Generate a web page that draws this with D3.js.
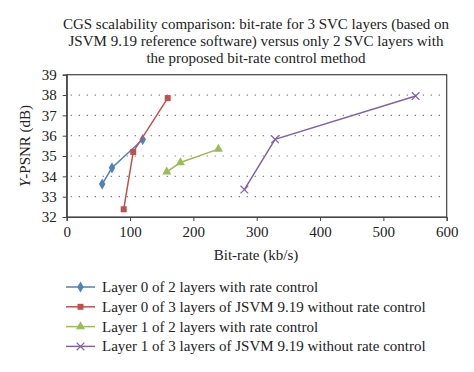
<!DOCTYPE html>
<html><head><meta charset="utf-8">
<script src="https://cdn.jsdelivr.net/npm/d3@7"></script>
<style>body{margin:0;background:#fff}svg{display:block}</style>
</head><body><svg id="c" width="474" height="372" font-family="Liberation Serif"></svg>
<script>
const titleLines = ["CGS scalability comparison: bit-rate for 3 SVC layers (based on",
  "JSVM 9.19 reference software) versus only 2 SVC layers with",
  "the proposed bit-rate control method"];
const seriesNames = ["Layer 0 of 2 layers with rate control",
  "Layer 0 of 3 layers of JSVM 9.19 without rate control",
  "Layer 1 of 2 layers with rate control",
  "Layer 1 of 3 layers of JSVM 9.19 without rate control"];
const layer0RC_x = [56, 71.5, 120];
const layer0RC_y = [33.62, 34.42, 35.81];
const layer0JSVM_x = [90, 105, 159.5];
const layer0JSVM_y = [32.38, 35.2, 37.85];
const layer1RC_x = [158, 179.5, 239.5];
const layer1RC_y = [34.22, 34.68, 35.34];
const layer1JSVM_x = [280.5, 329, 551];
const layer1JSVM_y = [33.35, 35.82, 37.95];
const xTicks = [0, 100, 200, 300, 400, 500, 600];
const yTicks = [32, 33, 34, 35, 36, 37, 38, 39];
const colors = ["#4F81BD", "#C0504D", "#9BBB59", "#8064A2"];
const symbols = ["diamond", "square", "triangle", "cross"];

const series = [
  {name: seriesNames[0], xs: layer0RC_x, ys: layer0RC_y},
  {name: seriesNames[1], xs: layer0JSVM_x, ys: layer0JSVM_y},
  {name: seriesNames[2], xs: layer1RC_x, ys: layer1RC_y},
  {name: seriesNames[3], xs: layer1JSVM_x, ys: layer1JSVM_y}
];

const FONT = "Liberation Serif";
const FS = 15;
const svg = d3.select("#c");
const L = 66.7, R = 446.7, T = 74.7, B = 217;
const x = d3.scaleLinear().domain([0, 600]).range([L, R]);
const y = d3.scaleLinear().domain([32, 39]).range([B, T]);

function txt(sel) {
  return sel.attr("font-family", FONT).attr("font-size", FS).attr("fill", "#222");
}

// title
txt(svg.append("g").selectAll("text").data(titleLines).join("text"))
  .attr("x", 256).attr("y", (d, i) => 29 + i * 17.2)
  .attr("text-anchor", "middle").text(d => d);

// grid
svg.append("g").selectAll("line").data(yTicks.filter(v => v > 32 && v < 39)).join("line")
  .attr("x1", L + 4).attr("x2", R).attr("y1", d => y(d)).attr("y2", d => y(d))
  .attr("stroke", "#777").attr("stroke-width", 1.2).attr("stroke-dasharray", "1.2,6.8");

// border
svg.append("rect").attr("x", L).attr("y", T).attr("width", R - L).attr("height", B - T)
  .attr("fill", "none").attr("stroke", "#444").attr("stroke-width", 1.2);

// axes
const xa = svg.append("g").attr("transform", `translate(0,${B})`)
  .call(d3.axisBottom(x).tickValues(xTicks).tickFormat(d3.format("d")).tickSize(4).tickPadding(5));
const ya = svg.append("g").attr("transform", `translate(${L},0)`)
  .call(d3.axisLeft(y).tickValues(yTicks).tickFormat(d3.format("d")).tickSize(4).tickPadding(6));
[xa, ya].forEach(a => {
  a.attr("font-family", FONT).attr("font-size", FS);
  a.select(".domain").attr("stroke", "#444").attr("stroke-width", 1.2);
  a.selectAll(".tick line").attr("stroke", "#444");
  txt(a.selectAll(".tick text"));
});

// axis titles
txt(svg.append("text")).attr("x", 256).attr("y", 260).attr("text-anchor", "middle")
  .text("Bit-rate (kb/s)");
const yl = txt(svg.append("text")).attr("transform", "translate(30,146) rotate(-90)")
  .attr("text-anchor", "middle");
yl.append("tspan").attr("font-style", "italic").text("Y");
yl.append("tspan").text("-PSNR (dB)");

function sym(i, size) {
  const t = {diamond: d3.symbolDiamond, square: d3.symbolSquare, triangle: d3.symbolTriangle, cross: d3.symbolX}[symbols[i]];
  return d3.symbol().type(t).size(size)();
}
function drawMarker(g, i, cx, cy) {
  const p = g.append("path").attr("d", sym(i, i === 3 ? 40 : 36))
    .attr("transform", `translate(${cx},${cy})`);
  if (i === 3) p.attr("fill", "none").attr("stroke", colors[i]).attr("stroke-width", 1.2);
  else p.attr("fill", colors[i]);
}

const line = d3.line().x(d => x(d[0])).y(d => y(d[1]));
series.forEach((s, i) => {
  const pts = s.xs.map((v, k) => [v, s.ys[k]]);
  const g = svg.append("g");
  g.append("path").attr("d", line(pts)).attr("fill", "none")
    .attr("stroke", colors[i]).attr("stroke-width", 1.5);
  pts.forEach(p => drawMarker(g, i, x(p[0]), y(p[1])));
});

// legend
const lg = svg.append("g");
series.forEach((s, i) => {
  const cy = 287 + i * 19.8;
  lg.append("line").attr("x1", 66).attr("x2", 95).attr("y1", cy).attr("y2", cy)
    .attr("stroke", colors[i]).attr("stroke-width", 1.5);
  drawMarker(lg, i, 80.5, cy);
  txt(lg.append("text")).attr("x", 102).attr("y", cy + 5).text(s.name);
});
</script></body></html>
